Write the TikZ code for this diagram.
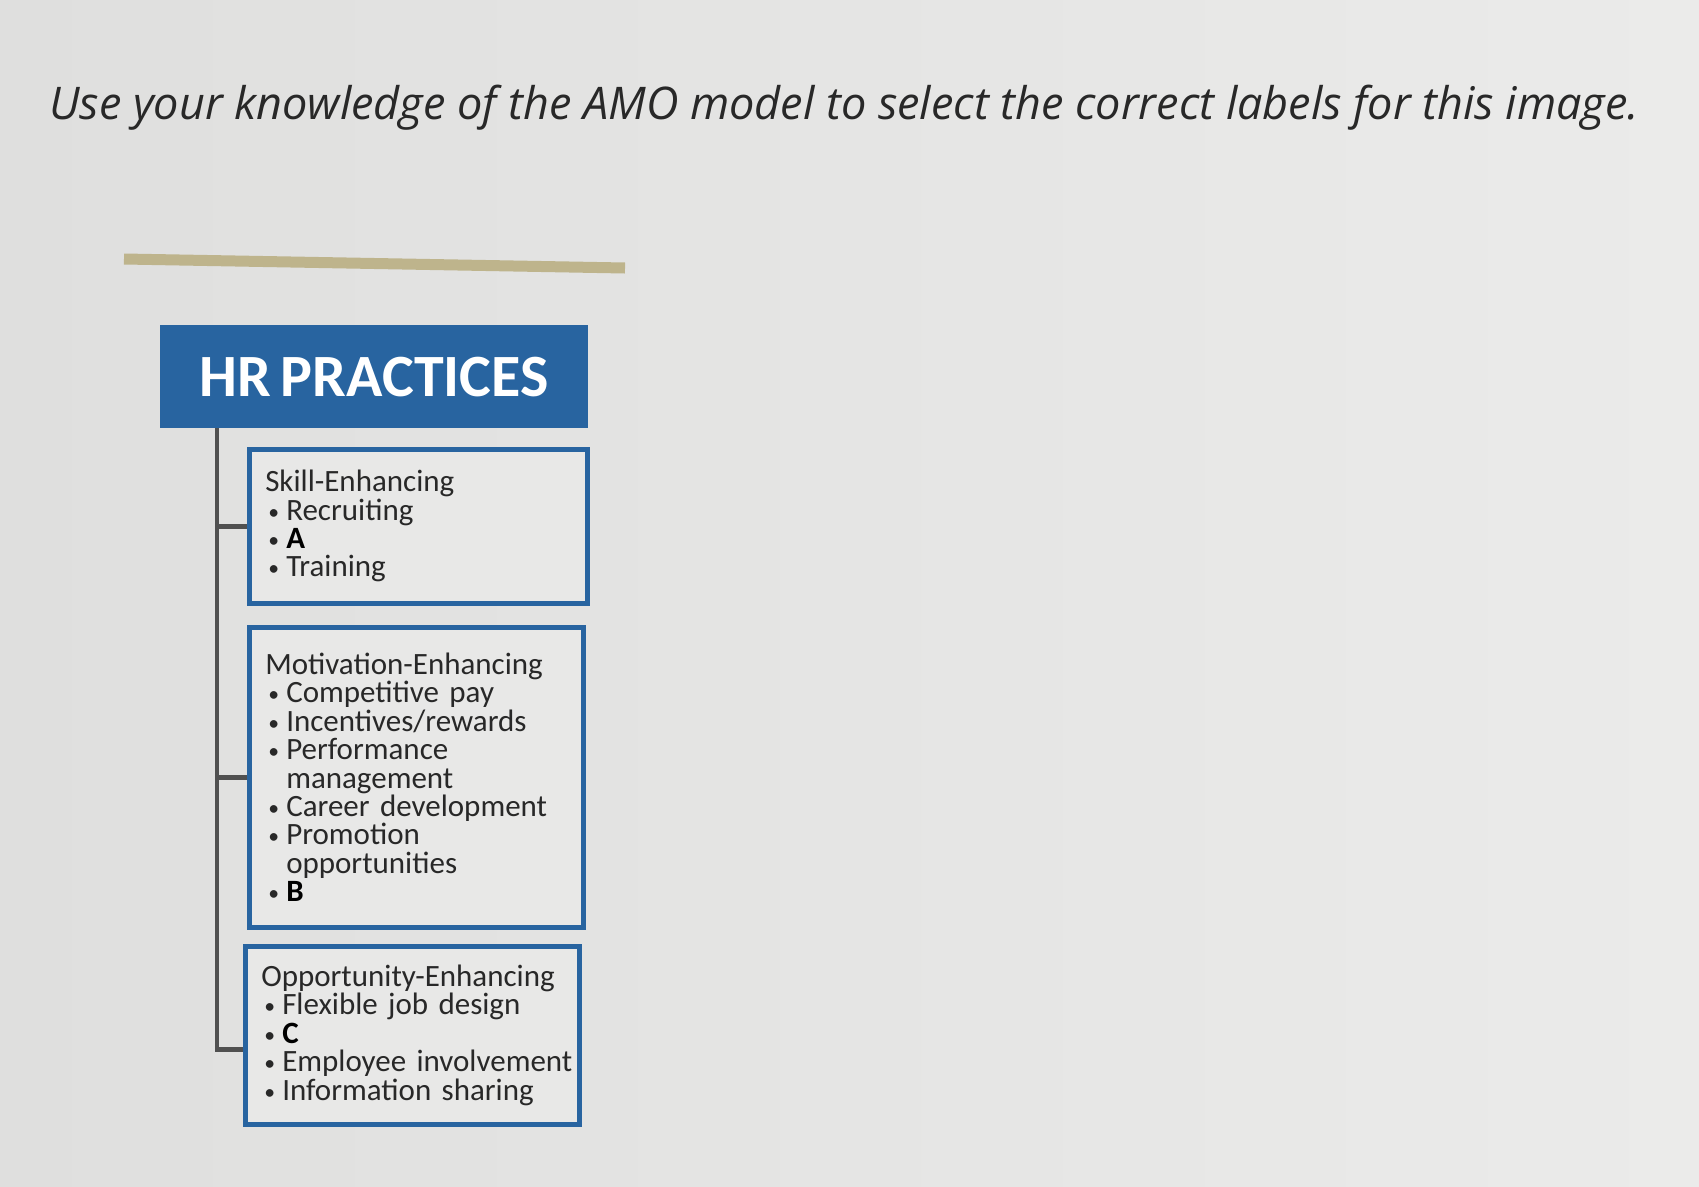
\documentclass[tikz,border=0pt]{standalone}
\usepackage{fontspec}
\setmainfont{Carlito}[WordSpace=0.7]
\newfontfamily\titlefont{Open Sans}
\usetikzlibrary{positioning,calc}
\definecolor{PageGray}{rgb}{0.8745098,0.8745098,0.8705882}
\definecolor{PageLight}{rgb}{0.9215686,0.9215686,0.9176471}
\definecolor{BoxFill}{rgb}{0.9098039,0.9098039,0.9058824}
\definecolor{HeaderBlue}{rgb}{0.1568627,0.3921569,0.6274510}
\definecolor{RuleTan}{rgb}{0.7450980,0.7058824,0.5490196}
\definecolor{TrunkGray}{rgb}{0.3137255,0.3137255,0.3137255}
\definecolor{TextGray}{rgb}{0.1568627,0.1568627,0.1568627}
\newcommand{\bul}{\makebox[21pt][l]{\hspace{3pt}\raisebox{1pt}{\scalebox{0.7}{\textbullet}}}}
\newcommand{\cont}{\hspace*{21pt}}

\begin{document}
\begin{tikzpicture}[x=1pt, y=-1pt,
    practice/.style={rectangle, draw=HeaderBlue, line width=4.5pt, fill=BoxFill,
      text=TextGray, text width=306pt, inner xsep=16pt, inner ysep=0pt,
      align=left, anchor=north west, font=\fontsize{31}{28.4}\selectfont},
    trunkline/.style={-, draw=TrunkGray, line width=4.5pt}]
  \shade[left color=PageGray, right color=PageLight] (0,0) rectangle (1699,1186);
  \useasboundingbox (0,0) rectangle (1699,1186);

  \node[anchor=base west, inner sep=0pt, text=TextGray,
    font=\titlefont\itshape\fontsize{45}{50}\selectfont] (title) at (49,119)
    {Use your knowledge of the AMO model to select the correct labels for this image.};

  \draw[RuleTan, line width=11pt] (124,259) -- (625,268);

  \node[rectangle, fill=HeaderBlue, text=white, anchor=north west,
    minimum width=428pt, minimum height=103pt, inner sep=0pt,
    font=\bfseries\fontsize{60}{60}\selectfont] (hr) at (160,325) {HR PRACTICES};

  \node[practice, minimum height=154pt] (skill) at (247,447)
    {Skill-Enhancing\\
     \bul Recruiting\\
     \bul \textbf{\color{black}A}\\
     \bul Training};

  \node[practice, minimum height=300pt, text width=302pt] (motiv) at (247,625)
    {Motivation-Enhancing\\
     \bul Competitive pay\\
     \bul Incentives/rewards\\
     \bul Performance\\
     \cont management\\
     \bul Career development\\
     \bul Promotion\\
     \cont opportunities\\
     \bul \textbf{\color{black}B}};

  \node[practice, minimum height=178pt, text width=302pt] (oppty) at (243,944)
    {Opportunity-Enhancing\\
     \bul Flexible job design\\
     \bul \textbf{\color{black}C}\\
     \bul \mbox{Employee involvement}\\
     \bul Information sharing};

  % tree lines from the header to the three groups
  \coordinate (trunk) at ($(hr.south west)+(57,0)$);
  \draw[trunkline] (trunk) |- (skill.west);
  \draw[trunkline] (trunk) |- (motiv.west);
  \draw[trunkline] (trunk) |- ($(oppty.west)+(0,14)$);
\end{tikzpicture}
\end{document}
